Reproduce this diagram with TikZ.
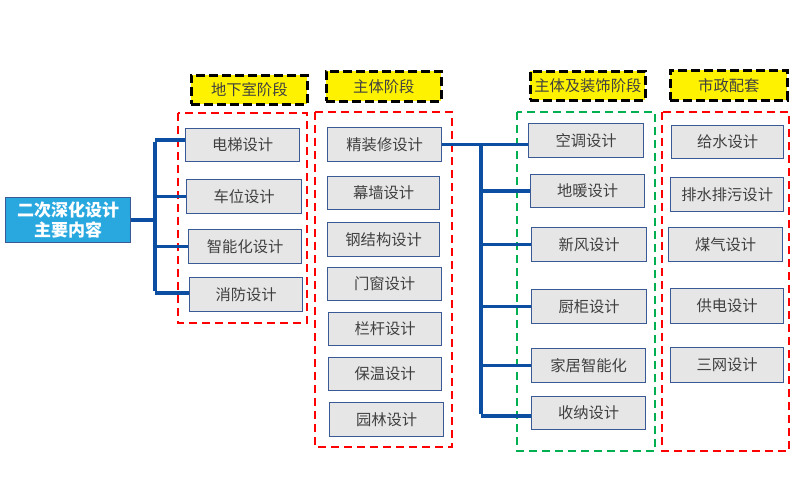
\documentclass[tikz,border=0pt]{standalone}
\usepackage{fontspec}
\setmainfont{Noto Sans CJK SC}
\begin{document}
\begin{tikzpicture}[x=1pt,y=-1pt,
  box/.style={draw=navyc,line width=1.3pt,fill=boxgray,text=txtgray,inner sep=0pt,anchor=north west,font=\fontsize{15.3}{17}\selectfont},
  tag/.style={draw=black,line width=2.6pt,dash pattern=on 9pt off 4pt,fill=yellow,text=txtgray,inner sep=0pt,anchor=north west,font=\fontsize{15.3}{17}\selectfont},
  redframe/.style={draw=red,line width=2.4pt,dash pattern=on 8pt off 5pt},
  greenframe/.style={draw=greenc,line width=2.4pt,dash pattern=on 8pt off 5pt},
  conn/.style={draw=linec,line width=3.5pt}]
\definecolor{navyc}{HTML}{3A5A96}
\definecolor{boxgray}{HTML}{E6E6E6}
\definecolor{txtgray}{HTML}{404040}
\definecolor{greenc}{HTML}{00B050}
\definecolor{linec}{HTML}{0B4EA2}
\definecolor{mainblue}{HTML}{29A8E0}
\useasboundingbox[fill=white] (0,0) rectangle (800,500);

% frames
\draw[redframe] (178,113) rectangle (307,323);
\draw[redframe] (315,112) rectangle (452,447);
\draw[greenframe] (517,112) rectangle (655,451);
\draw[redframe] (662,112) rectangle (789,451);

% tags
\node[tag,minimum width=116pt,minimum height=29pt] (tg1) at (190,74) {地下室阶段};
\node[tag,minimum width=115pt,minimum height=30pt] (tg2) at (325,70) {主体阶段};
\node[tag,minimum width=115pt,minimum height=29pt] (tg3) at (529,70) {主体及装饰阶段};
\node[tag,minimum width=117pt,minimum height=30pt] (tg4) at (669,69) {市政配套};

% main
\node[draw=navyc,line width=1.3pt,fill=mainblue,text=white,inner sep=0pt,anchor=north west,
  minimum width=125pt,minimum height=45pt,align=center,font=\fontsize{17}{20}\selectfont\bfseries] (main) at (5,197) {二次深化设计\\主要内容};

% column 1
\node[box,minimum width=114pt,minimum height=33pt] (b1) at (185,128) {电梯设计};
\node[box,minimum width=115pt,minimum height=34pt] (b2) at (186,179) {车位设计};
\node[box,minimum width=113pt,minimum height=34pt] (b3) at (188,229) {智能化设计};
\node[box,minimum width=113pt,minimum height=34pt] (b4) at (189,277) {消防设计};

% column 2
\node[box,minimum width=114pt,minimum height=34pt] (s1) at (327,127) {精装修设计};
\node[box,minimum width=112pt,minimum height=33pt] (s2) at (327,176) {幕墙设计};
\node[box,minimum width=112pt,minimum height=34pt] (s3) at (327,222) {钢结构设计};
\node[box,minimum width=114pt,minimum height=33pt] (s4) at (327,267) {门窗设计};
\node[box,minimum width=113pt,minimum height=33pt] (s5) at (328,312) {栏杆设计};
\node[box,minimum width=113pt,minimum height=33pt] (s6) at (328,357) {保温设计};
\node[box,minimum width=114pt,minimum height=34pt] (s7) at (329,402) {园林设计};

% column 3
\node[box,minimum width=115pt,minimum height=34pt] (c1) at (528,123) {空调设计};
\node[box,minimum width=114pt,minimum height=33pt] (c2) at (530,174) {地暖设计};
\node[box,minimum width=115pt,minimum height=34pt] (c3) at (531,227) {新风设计};
\node[box,minimum width=115pt,minimum height=34pt] (c4) at (531,289) {厨柜设计};
\node[box,minimum width=114pt,minimum height=34pt] (c5) at (531,348) {家居智能化};
\node[box,minimum width=114pt,minimum height=33pt] (c6) at (531,396) {收纳设计};

% column 4
\node[box,minimum width=112pt,minimum height=33pt] (m1) at (671,125) {给水设计};
\node[box,minimum width=113pt,minimum height=34pt] (m2) at (670,177) {排水排污设计};
\node[box,minimum width=114pt,minimum height=34pt] (m3) at (668,227) {煤气设计};
\node[box,minimum width=113pt,minimum height=35pt] (m4) at (670,288) {供电设计};
\node[box,minimum width=113pt,minimum height=35pt] (m5) at (670,347) {三网设计};

% connectors group 1
\coordinate (ja) at (155,140);
\coordinate (jb) at (155,293);
\draw[conn] (main.east) -- (main.east -| ja);
\draw[conn] ([yshift=-1.75pt]ja) -- ([yshift=1.75pt]jb);
\draw[conn] (ja) -- (ja -| b1.west);
\draw[conn] (b2.west -| ja) -- (b2.west);
\draw[conn] (b3.west -| ja) -- (b3.west);
\draw[conn] (jb) -- (jb -| b4.west);

% connectors group 2
\coordinate (ka) at (481,144);
\coordinate (kb) at (481,416);
\draw[conn] (s1.east) -- (s1.east -| c1.west);
\draw[conn] ([yshift=-1.75pt]s1.east -| ka) -- ([yshift=1.75pt]kb);
\draw[conn] (c2.west -| ka) -- (c2.west);
\draw[conn] (c3.west -| ka) -- (c3.west);
\draw[conn] (c4.west -| ka) -- (c4.west);
\draw[conn] (c5.west -| ka) -- (c5.west);
\draw[conn] (kb) -- (kb -| c6.west);
\end{tikzpicture}
\end{document}
